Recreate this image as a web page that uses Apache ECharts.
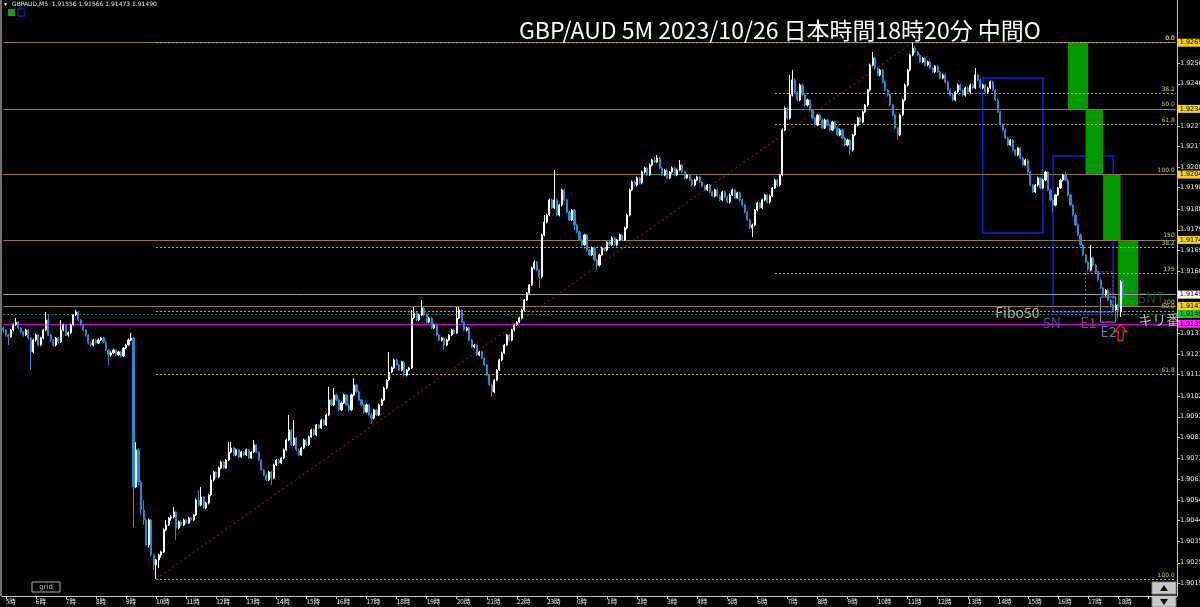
<!DOCTYPE html>
<html><head><meta charset="utf-8">
<script src="https://cdn.jsdelivr.net/npm/echarts@6/dist/echarts.min.js"></script>
<style>html,body{margin:0;padding:0;background:#000;}#c{width:1200px;height:607px;}</style>
</head><body><div id="c"></div>
<script>
// ---------------- DATA ----------------
const symbolName = 'GBPAUD,M5';
const titleText = 'GBP/AUD 5M 2023/10/26 日本時間18時20分 中間O';
const hourTicks = ['5時','6時','7時','8時','9時','10時','11時','12時','13時','14時','15時','16時','17時','18時','19時','20時','21時','22時','23時','0時','1時','2時','3時','4時','5時','6時','7時','8時','9時','10時','11時','12時','13時','14時','15時','16時','17時','18時'];
const slotCount = 469;           // time slots on the x axis (5-minute bars incl. right margin)
const PRICE_BASE = 1.9, POINT = 0.00001;
// candles: [open, close, low, high] in points above 1.90000
const bars = [
[1336,1326,1315,1342],[1326,1303,1295,1330],[1303,1294,1257,1310],[1294,1326,1290,1332],[1326,1350,1320,1356],[1350,1363,1345,1382],[1363,1336,1330,1368],[1336,1317,1310,1340],
[1317,1303,1296,1322],[1303,1326,1298,1332],[1326,1289,1282,1330],[1289,1225,1141,1294],[1225,1280,1218,1286],[1280,1303,1272,1310],[1303,1257,1250,1308],[1257,1289,1252,1295],
[1289,1326,1284,1332],[1326,1373,1320,1410],[1373,1303,1298,1396],[1303,1280,1272,1308],[1280,1257,1248,1285],[1257,1289,1250,1294],[1289,1271,1262,1296],[1271,1326,1266,1373],
[1326,1350,1320,1356],[1350,1303,1298,1354],[1303,1313,1296,1318],[1313,1350,1308,1356],[1350,1396,1345,1400],[1396,1410,1390,1418],[1410,1373,1366,1414],[1373,1350,1344,1378],
[1350,1326,1320,1354],[1326,1303,1296,1331],[1303,1266,1258,1308],[1266,1257,1248,1272],[1257,1280,1250,1285],[1280,1266,1260,1286],[1266,1280,1262,1288],[1280,1289,1275,1295],
[1289,1271,1265,1294],[1271,1234,1228,1276],[1234,1211,1165,1238],[1211,1220,1204,1228],[1220,1234,1215,1240],[1234,1211,1206,1238],[1211,1225,1205,1230],[1225,1206,1198,1230],
[1206,1243,1202,1248],[1243,1257,1238,1262],[1257,1280,1252,1288],[1280,1289,1275,1313],[1289,600,415,1294],[600,772,595,808],[772,623,610,782],[623,494,471,630],
[494,448,425,540],[448,332,325,455],[332,448,320,455],[448,286,278,452],[286,240,217,292],[240,263,175,268],[263,286,225,292],[286,300,275,306],
[300,402,295,408],[402,425,396,448],[425,457,420,462],[457,462,445,470],[462,485,455,508],[485,411,355,490],[411,439,405,445],[439,425,418,445],
[425,448,420,454],[448,434,428,452],[434,457,430,462],[457,448,442,462],[448,471,444,476],[471,540,466,546],[540,517,510,586],[517,554,512,600],
[554,503,498,560],[503,526,496,532],[526,563,520,568],[563,633,558,656],[633,670,626,676],[670,647,640,675],[647,688,642,694],[688,716,682,722],
[716,688,682,722],[688,725,684,730],[725,762,720,808],[762,781,756,808],[781,748,742,786],[748,772,744,778],[772,739,734,776],[739,762,735,768],
[762,748,742,766],[748,772,744,778],[772,734,730,776],[734,762,730,766],[762,795,758,818],[795,762,756,800],[762,725,720,766],[725,679,674,730],
[679,656,650,684],[656,633,628,660],[633,670,628,675],[670,642,610,675],[642,702,638,708],[702,725,698,730],[725,711,706,730],[711,734,706,740],
[734,772,730,778],[772,818,768,824],[818,864,812,933],[864,795,790,870],[795,827,790,910],[827,772,766,832],[772,748,742,778],[748,781,744,786],
[781,818,776,824],[818,795,790,824],[795,832,790,838],[832,864,828,870],[864,841,836,870],[841,887,836,892],[887,873,868,892],[873,910,868,916],
[910,887,882,916],[887,933,882,940],[933,1003,928,1063],[1003,980,975,1010],[980,1026,975,1058],[1026,1003,998,1032],[1003,957,950,1008],[957,989,952,995],
[989,1026,984,1032],[1026,980,975,1030],[980,957,950,985],[957,1026,952,1032],[1026,1072,1020,1104],[1072,1040,1034,1078],[1040,1003,998,1046],[1003,980,975,1008],
[980,947,940,985],[947,980,942,986],[980,933,928,985],[933,919,892,940],[919,957,912,962],[957,933,928,962],[933,980,928,986],[980,1003,975,1010],
[1003,1058,998,1064],[1058,1095,1052,1100],[1095,1132,1090,1225],[1132,1151,1126,1158],[1151,1188,1146,1194],[1188,1165,1160,1194],[1165,1141,1136,1170],[1141,1178,1136,1184],
[1178,1118,1112,1184],[1118,1141,1112,1146],[1141,1151,1136,1156],[1151,1382,1146,1419],[1382,1405,1376,1433],[1405,1373,1368,1410],[1373,1396,1368,1402],[1396,1428,1390,1465],
[1428,1396,1390,1434],[1396,1363,1358,1402],[1363,1382,1358,1388],[1382,1336,1330,1388],[1336,1350,1330,1356],[1350,1303,1298,1356],[1303,1280,1274,1308],[1280,1289,1274,1295],
[1289,1257,1234,1294],[1257,1280,1252,1286],[1280,1303,1275,1308],[1303,1326,1298,1332],[1326,1313,1308,1332],[1313,1382,1308,1433],[1382,1419,1376,1433],[1419,1363,1358,1424],
[1363,1326,1320,1368],[1326,1336,1320,1342],[1336,1280,1275,1342],[1280,1248,1242,1285],[1248,1257,1242,1262],[1257,1211,1206,1262],[1211,1225,1206,1230],[1225,1197,1192,1230],
[1197,1165,1160,1202],[1165,1118,1112,1170],[1118,1072,1066,1124],[1072,1040,1017,1078],[1040,1095,1034,1100],[1095,1141,1090,1146],[1141,1188,1136,1194],[1188,1220,1182,1226],
[1220,1257,1215,1262],[1257,1303,1252,1308],[1303,1280,1275,1308],[1280,1326,1275,1332],[1326,1350,1320,1356],[1350,1363,1345,1368],[1363,1382,1358,1388],[1382,1419,1376,1424],
[1419,1465,1414,1470],[1465,1497,1460,1502],[1497,1535,1492,1540],[1535,1613,1530,1620],[1613,1641,1606,1648],[1641,1604,1598,1646],[1604,1572,1521,1610],[1572,1766,1566,1772],
[1766,1826,1760,1858],[1826,1858,1820,1864],[1858,1928,1852,1934],[1928,1891,1885,1934],[1891,1928,1885,2066],[1928,1858,1852,1934],[1858,1904,1852,1910],[1904,1974,1898,1980],
[1974,1928,1922,1980],[1928,1872,1866,1934],[1872,1835,1830,1878],[1835,1881,1830,1886],[1881,1812,1789,1886],[1812,1780,1774,1818],[1780,1743,1738,1786],[1743,1720,1714,1748],
[1720,1766,1714,1772],[1766,1696,1690,1772],[1696,1673,1668,1702],[1673,1706,1668,1712],[1706,1650,1644,1712],[1650,1627,1604,1656],[1627,1673,1620,1680],[1673,1706,1668,1712],
[1706,1696,1690,1712],[1696,1733,1690,1738],[1733,1720,1714,1738],[1720,1752,1714,1758],[1752,1720,1714,1758],[1720,1743,1714,1748],[1743,1766,1738,1772],[1766,1743,1738,1772],
[1743,1798,1738,1804],[1798,1858,1792,1864],[1858,1974,1852,1980],[1974,2011,1968,2018],[2011,1997,1990,2018],[1997,2029,1990,2036],[2029,2006,2000,2036],[2006,2057,2000,2064],
[2057,2076,2050,2082],[2076,2043,2038,2082],[2043,2089,2038,2096],[2089,2113,2084,2118],[2113,2103,2098,2126],[2103,2122,2098,2136],[2122,2076,2070,2128],[2076,2043,2038,2082],
[2043,2066,2038,2072],[2066,2029,2024,2072],[2029,2057,2024,2062],[2057,2076,2050,2082],[2076,2043,2038,2082],[2043,2066,2038,2072],[2066,2089,2060,2113],[2089,2057,2050,2094],
[2057,2029,2024,2062],[2029,2043,2024,2048],[2043,2020,2014,2048],[2020,1997,1990,2026],[1997,2020,1990,2026],[2020,2034,2014,2040],[2034,2011,2005,2040],[2011,1992,1986,2016],
[1992,1974,1968,1998],[1974,1997,1968,2002],[1997,1965,1960,2002],[1965,1946,1940,1970],[1946,1974,1940,1980],[1974,1946,1940,1980],[1946,1928,1922,1952],[1928,1965,1922,1970],
[1965,1941,1936,1970],[1941,1918,1912,1946],[1918,1951,1912,1956],[1951,1974,1946,1980],[1974,1937,1932,1980],[1937,1960,1932,1966],[1960,1928,1922,1966],[1928,1904,1898,1934],
[1904,1872,1866,1910],[1872,1835,1830,1878],[1835,1798,1792,1840],[1798,1812,1756,1818],[1812,1881,1806,1886],[1881,1914,1876,1920],[1914,1891,1885,1920],[1891,1928,1885,1934],
[1928,1951,1922,1956],[1951,1918,1912,1956],[1918,1946,1912,1952],[1946,1983,1940,1988],[1983,2020,1978,2026],[2020,1997,1990,2026],[1997,2043,1990,2048],[2043,2251,2038,2258],
[2251,2353,2245,2360],[2353,2307,2300,2360],[2307,2413,2300,2506],[2413,2483,2406,2529],[2483,2427,2420,2490],[2427,2390,2384,2432],[2390,2459,2384,2466],[2459,2413,2406,2466],
[2413,2367,2360,2418],[2367,2390,2360,2396],[2390,2344,2338,2396],[2344,2307,2300,2350],[2307,2274,2268,2312],[2274,2321,2268,2326],[2321,2298,2292,2326],[2298,2261,2255,2304],
[2261,2298,2255,2304],[2298,2274,2268,2304],[2274,2251,2245,2280],[2251,2288,2245,2294],[2288,2261,2255,2294],[2261,2228,2222,2266],[2228,2251,2222,2258],[2251,2214,2208,2258],
[2214,2182,2176,2220],[2182,2205,2176,2210],[2205,2159,2136,2210],[2159,2228,2152,2234],[2228,2274,2222,2280],[2274,2307,2268,2312],[2307,2288,2282,2312],[2288,2335,2282,2340],
[2335,2367,2330,2372],[2367,2436,2360,2442],[2436,2552,2430,2558],[2552,2584,2546,2612],[2584,2538,2532,2590],[2538,2506,2500,2544],[2506,2529,2500,2534],[2529,2473,2466,2534],
[2473,2436,2430,2480],[2436,2413,2406,2442],[2413,2367,2360,2418],[2367,2321,2315,2372],[2321,2261,2255,2326],[2261,2228,2205,2266],[2228,2321,2222,2326],[2321,2390,2315,2396],
[2390,2459,2384,2466],[2459,2529,2452,2534],[2529,2598,2522,2604],[2598,2630,2592,2655],[2630,2612,2606,2640],[2612,2598,2592,2618],[2598,2566,2560,2604],[2566,2584,2560,2590],
[2584,2552,2546,2590],[2552,2566,2546,2572],[2566,2538,2532,2572],[2538,2520,2514,2544],[2520,2547,2514,2552],[2547,2520,2514,2552],[2520,2492,2486,2526],[2492,2506,2486,2512],
[2506,2473,2466,2512],[2473,2436,2430,2480],[2436,2413,2406,2442],[2413,2390,2384,2418],[2390,2427,2384,2432],[2427,2459,2420,2466],[2459,2436,2430,2466],[2436,2413,2406,2442],
[2413,2446,2406,2452],[2446,2427,2420,2452],[2427,2459,2420,2466],[2459,2446,2440,2466],[2446,2506,2440,2538],[2506,2483,2476,2512],[2483,2446,2440,2490],[2446,2459,2440,2466],
[2459,2427,2420,2466],[2427,2446,2420,2452],[2446,2473,2440,2480],[2473,2436,2430,2480],[2436,2390,2384,2442],[2390,2335,2330,2396],[2335,2274,2268,2340],[2274,2251,2245,2280],
[2251,2214,2208,2258],[2214,2182,2176,2220],[2182,2205,2176,2210],[2205,2159,2152,2210],[2159,2136,2130,2164],[2136,2168,2130,2174],[2168,2122,2116,2174],[2122,2089,2084,2128],
[2089,2113,2084,2118],[2113,2057,2050,2118],[2057,1997,1990,2062],[1997,1965,1960,2002],[1965,1997,1960,2002],[1997,2029,1990,2036],[2029,1983,1978,2036],[1983,2020,1978,2026],
[2020,2057,2014,2062],[2057,1974,1968,2062],[1974,1928,1922,1980],[1928,1904,1872,1934],[1904,1951,1898,1956],[1951,1983,1946,1988],[1983,2020,1978,2026],[2020,2043,2014,2048],
[2043,2020,2014,2057],[2020,1951,1946,2026],[1951,1904,1898,1956],[1904,1858,1852,1910],[1858,1812,1806,1864],[1812,1766,1760,1818],[1766,1720,1714,1772],[1720,1673,1668,1726],
[1673,1641,1636,1680],[1641,1604,1598,1646],[1604,1659,1598,1720],[1659,1627,1620,1666],[1627,1594,1588,1632],[1594,1558,1552,1600],[1558,1521,1515,1564],[1521,1488,1482,1526],
[1488,1511,1482,1516],[1511,1465,1460,1516],[1465,1442,1436,1470],[1442,1419,1414,1448],[1419,1442,1414,1448],[1442,1410,1382,1448],[1410,1548,1387,1556],[1556,1490,1473,1566]
];
const yTicks = [1.92560,1.92465,1.92270,1.92175,1.92080,1.91985,1.91885,1.91790,1.91695,1.91600,1.91310,1.91215,1.91120,1.91020,1.90925,1.90830,1.90735,1.90635,1.90540,1.90445,1.90350,1.90250,1.90155];
const yMin = 1.900963, yMax = 1.928525;

// Fibonacci A (swing 1.92655 -> 1.92045 with extensions)
const fibALabels = ['0.0','38.2','50.0','61.8','100.0','150','175','200'];
const fibAPrices = [1.92655,1.92422,1.92349,1.92278,1.92045,1.91743,1.91588,1.91437];
const fibAStartSlot = 308;
// Fibonacci B (swing low 1.90175 -> high 1.92655)
const fibBLabels = ['0.0','38.2','50.0','61.8','100.0'];
const fibBPrices = [1.92655,1.91708,1.91415,1.91122,1.90175];
const fibBStartSlot = 61;
const trendFrom = [61, 1.90175], trendTo = [363, 1.92655];
const bidPrice = 1.91490, fibo50Price = 1.91400, kiriPrice = 1.91355;
const axisBoxes = [1.92655,1.92349,1.92045,1.91743,1.91490,1.91437,1.91400,1.91355];
// boxes: [slotFrom, priceTop, slotTo, priceBottom]
const nBoxes = [[391,1.92492,415,1.91775],[419,1.92131,443,1.91410]];
const greenBoxes = [[425,1.92655,433,1.92349],[432,1.92349,439,1.92045],[439,1.92045,446,1.91743],[445,1.91743,453,1.91437]];
const e1Box = [432,1.91595,443,1.91410];
const e2Box = [438,1.91479,444,1.91363];
const notes = [['Fibo50',396,1.91405],['5N',415,1.91359],['E1',430,1.91359],['E2',438,1.91317],['キリ番',453,1.91373],['5NT',453,1.91475]];
const arrowAt = [446, 1.91315];

// ---------------- BUILD ----------------
const toPrice = p => +(PRICE_BASE + p * POINT).toFixed(5);
const candleData = bars.map(b => b.map(toPrice));
const categories = [], hourLabelOf = {};
for (let i = 0; i < slotCount; i++) {
  const mins = 4 * 60 + 55 + 5 * i;
  const day = 25 + Math.floor(mins / 1440), h = Math.floor(mins / 60) % 24, m = mins % 60;
  const name = `10/${day} ${String(h).padStart(2,'0')}:${String(m).padStart(2,'0')}`;
  categories.push(name);
  if (m === 0 && i >= 1) hourLabelOf[name] = hourTicks[(i - 1) / 12];
}
const lastSlot = slotCount - 1;
const last = candleData[candleData.length - 1];

const COL = {
  axis:'#c8c8c8', text:'#e8e8e8', olive:'#8c7b3c', fibDash:'#b8b42c', fibText:'#d2cf3a',
  bull:'#ffffff', bear:'#2489d6', nBox:'#1a1ae0', green:'#009a00', e1:'#b23cb2', e2:'#9088c8',
  bid:'#9c9cac', fibo50:'#2e922e', kiri:'#c400c4', trend:'#b01c1c'
};
const boxColor = p => p === bidPrice ? '#ffffff' : p === fibo50Price ? '#22c022' : p === kiriPrice ? '#ff22ff' : '#f5d020';
const noteColor = {'Fibo50':'#cfcfcf','5N':'#4867b0','E1':'#c23cc2','E2':'#8f86d8','キリ番':'#dedede','5NT':'#156515'};

const lines = [];
const hLine = (fromSlot, p, lineStyle, label) => [{coord:[fromSlot, p], lineStyle, label}, {coord:[lastSlot, p]}];
const solidA = new Set(['0.0','50.0','100.0','150','200']);
const fibLabel = t => ({show:true, position:'insideEndTop', formatter:t, color:COL.fibText, fontSize:6, distance:1, fontFamily:'DejaVu Sans'});
fibAPrices.forEach((p, k) => {
  const t = fibALabels[k];
  if (solidA.has(t)) lines.push(hLine(0, p, {color:COL.olive, width:1.2, type:'solid'}, fibLabel(t)));
  else lines.push(hLine(fibAStartSlot, p, {color:COL.fibDash, width:1, type:[2,2]}, fibLabel(t)));
});
fibBPrices.forEach((p, k) => lines.push(hLine(fibBStartSlot, p, {color:COL.fibDash, width:1, type:[2,2]}, fibLabel(fibBLabels[k]))));
lines.push(hLine(0, bidPrice, {color:COL.bid, width:1, type:'solid'}, {show:false}));
lines.push(hLine(0, fibo50Price, {color:COL.fibo50, width:1, type:[2,2]}, {show:false}));
lines.push(hLine(0, kiriPrice, {color:COL.kiri, width:1.3, type:'solid'}, {show:false}));
lines.push([{coord:trendFrom, lineStyle:{color:COL.trend, width:1, type:[2,3]}, label:{show:false}}, {coord:trendTo}]);
axisBoxes.forEach(p => {
  lines.push(hLine(0, p, {color:'rgba(0,0,0,0)', width:0}, {show:true, position:'end', distance:2,
    formatter:p.toFixed(5), color:'#000', backgroundColor:boxColor(p), fontSize:6.5, padding:[1,2,0,2], fontFamily:'DejaVu Sans'}));
});

const areas = [];
nBoxes.forEach(b => areas.push([{coord:[b[0], b[1]], itemStyle:{color:'rgba(0,0,0,0)', borderColor:COL.nBox, borderWidth:1.5}}, {coord:[b[2], b[3]]}]));
greenBoxes.forEach(b => areas.push([{coord:[b[0], b[1]], itemStyle:{color:COL.green, borderWidth:0}}, {coord:[b[2], b[3]]}]));
areas.push([{coord:[e1Box[0], e1Box[1]], itemStyle:{color:'rgba(0,0,0,0)', borderColor:COL.e1, borderWidth:1, borderType:[2,2]}}, {coord:[e1Box[2], e1Box[3]]}]);
areas.push([{coord:[e2Box[0], e2Box[1]], itemStyle:{color:'rgba(0,0,0,0)', borderColor:COL.e2, borderWidth:1}}, {coord:[e2Box[2], e2Box[3]]}]);

const noteData = notes.map(n => ({value:[n[1], n[2]], symbolSize:0,
  label:{show:true, position:'right', distance:0, formatter:n[0], color:noteColor[n[0]], fontSize:14, fontFamily:'Noto Sans CJK JP'}}));
noteData.push({value:arrowAt, symbol:'path://M6,0 L12,7 L8.5,7 L8.5,16 L3.5,16 L3.5,7 L0,7 Z', symbolSize:[12,16],
  itemStyle:{color:'rgba(0,0,0,0)', borderColor:'#ff2a2a', borderWidth:1.6}, label:{show:false}});

const chart = echarts.init(document.getElementById('c'), null, {renderer:'canvas'});
chart.setOption({
  backgroundColor:'#000',
  animation:false,
  title:{text:titleText, left:519, top:19, padding:0,
    textStyle:{color:'#ffffff', fontSize:23, fontWeight:'normal', fontFamily:'Noto Sans CJK JP'}},
  grid:{left:2, right:23, top:0, bottom:11, containLabel:false, outerBoundsMode:'none'},
  xAxis:{type:'category', data:categories, boundaryGap:true,
    axisLine:{lineStyle:{color:COL.axis, width:1}},
    axisTick:{show:true, alignWithLabel:true, length:3, interval:(i, v) => v in hourLabelOf, lineStyle:{color:COL.axis}},
    axisLabel:{interval:(i, v) => v in hourLabelOf, formatter:v => hourLabelOf[v] || '', align:'left', margin:2,
      color:COL.text, fontSize:6.5, fontFamily:'Noto Sans CJK JP'},
    splitLine:{show:false}},
  yAxis:{type:'value', position:'right', min:yMin, max:yMax, splitLine:{show:false},
    axisLine:{show:true, lineStyle:{color:COL.axis, width:1}},
    axisTick:{show:true, length:3, customValues:yTicks, lineStyle:{color:COL.axis}},
    axisLabel:{customValues:yTicks, formatter:v => v.toFixed(5), color:COL.text, fontSize:6.5, margin:3, fontFamily:'DejaVu Sans'}},
  series:[
    {type:'candlestick', data:candleData, barWidth:1.6, z:3,
      itemStyle:{color:COL.bull, color0:COL.bear, borderColor:COL.bull, borderColor0:COL.bear, borderWidth:1},
      markArea:{silent:true, z:1, data:areas}},
    {type:'scatter', data:noteData, z:6, clip:false, silent:true,
      markLine:{silent:true, symbol:'none', animation:false, z:2, data:lines}}
  ],
  graphic:[
    {type:'line', shape:{x1:1, y1:0, x2:1, y2:596}, style:{stroke:'#9a9a9a', lineWidth:1.5}},
    {type:'text', left:3, top:2, style:{text:'▼', fill:'#ffffff', fontSize:5}},
    {type:'text', left:12, top:1, style:{text:`${symbolName}  ${last[0].toFixed(5)} ${last[3].toFixed(5)} ${last[2].toFixed(5)} ${last[1].toFixed(5)}`,
      fill:'#e8e8e8', fontSize:6, fontFamily:'DejaVu Sans'}},
    {type:'rect', shape:{x:8, y:9, width:7, height:7}, style:{fill:'#11a011'}},
    {type:'rect', shape:{x:18, y:9, width:7, height:7}, style:{fill:'rgba(0,0,0,0)', stroke:'#2020e0', lineWidth:1}},
    {type:'rect', shape:{x:32, y:582, width:28, height:10}, style:{fill:'#000', stroke:'#b0b0b0', lineWidth:1}},
    {type:'text', x:46, y:587, style:{text:'grid', fill:'#b8b8b8', fontSize:7, align:'center', verticalAlign:'middle', fontFamily:'DejaVu Sans'}},
    {type:'rect', shape:{x:1152, y:582, width:24, height:12}, style:{fill:'#c8c8c8', stroke:'#8a8a8a', lineWidth:1}},
    {type:'polygon', shape:{points:[[1164,585],[1168,591],[1160,591]]}, style:{fill:'#111'}},
    {type:'rect', shape:{x:1152, y:596, width:24, height:11}, style:{fill:'#c8c8c8', stroke:'#8a8a8a', lineWidth:1}},
    {type:'polygon', shape:{points:[[1160,599],[1168,599],[1164,605]]}, style:{fill:'#111'}}
  ]
});
</script></body></html>
